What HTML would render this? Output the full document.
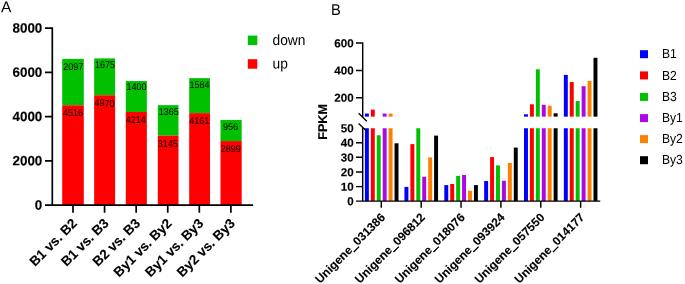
<!DOCTYPE html>
<html><head><meta charset="utf-8"><title>Figure</title>
<style>
html,body{margin:0;padding:0;background:#fff;}
body{width:685px;height:284px;overflow:hidden;position:relative;}
svg{position:absolute;left:0;top:0;display:block;}
svg text{font-family:"Liberation Sans",Arial,sans-serif;fill:#000;text-rendering:geometricPrecision;}
.b{font-weight:bold;stroke:#000;stroke-width:0.14px;}
.r{stroke:#000;stroke-width:0.12px;}
</style></head><body>
<svg width="685" height="284" viewBox="0 0 685 284">
<rect width="685" height="284" fill="#fff"/>
<g id="panelA">
<text font-size="15.6" transform="translate(1.0 12.35) rotate(0.03) scale(1 1)">A</text>
<rect x="62.20" y="58.89" width="21.60" height="46.40" fill="#00C000"/><rect x="62.20" y="105.28" width="21.60" height="99.92" fill="#FF0000"/>
<rect x="94.15" y="58.38" width="20.95" height="36.86" fill="#00C000"/><rect x="94.15" y="95.24" width="20.95" height="109.96" fill="#FF0000"/>
<rect x="125.80" y="81.04" width="21.05" height="30.93" fill="#00C000"/><rect x="125.80" y="111.97" width="21.05" height="93.23" fill="#FF0000"/>
<rect x="157.80" y="105.17" width="20.70" height="30.45" fill="#00C000"/><rect x="157.80" y="135.62" width="20.70" height="69.58" fill="#FF0000"/>
<rect x="189.20" y="78.14" width="20.80" height="35.00" fill="#00C000"/><rect x="189.20" y="113.14" width="20.80" height="92.06" fill="#FF0000"/>
<rect x="220.50" y="119.91" width="21.20" height="21.15" fill="#00C000"/><rect x="220.50" y="141.06" width="21.20" height="64.14" fill="#FF0000"/>
<text font-size="9.8" text-anchor="middle" transform="translate(73.25 70.00) rotate(0.03) scale(0.92 1)">2097</text><text font-size="9.8" text-anchor="middle" transform="translate(72.90 116.30) rotate(0.03) scale(0.92 1)">4516</text>
<text font-size="9.8" text-anchor="middle" transform="translate(105.00 68.00) rotate(0.03) scale(0.92 1)">1675</text><text font-size="9.8" text-anchor="middle" transform="translate(104.45 106.50) rotate(0.03) scale(0.92 1)">4970</text>
<text font-size="9.8" text-anchor="middle" transform="translate(136.60 90.45) rotate(0.03) scale(0.92 1)">1400</text><text font-size="9.8" text-anchor="middle" transform="translate(135.70 122.90) rotate(0.03) scale(0.92 1)">4214</text>
<text font-size="9.8" text-anchor="middle" transform="translate(168.65 115.00) rotate(0.03) scale(0.92 1)">1365</text><text font-size="9.8" text-anchor="middle" transform="translate(167.70 146.90) rotate(0.03) scale(0.92 1)">3145</text>
<text font-size="9.8" text-anchor="middle" transform="translate(199.40 88.30) rotate(0.03) scale(0.92 1)">1584</text><text font-size="9.8" text-anchor="middle" transform="translate(199.15 124.15) rotate(0.03) scale(0.92 1)">4161</text>
<text font-size="9.8" text-anchor="middle" transform="translate(230.60 129.65) rotate(0.03) scale(0.92 1)">956</text><text font-size="9.8" text-anchor="middle" transform="translate(230.80 152.10) rotate(0.03) scale(0.92 1)">2899</text>
<path d="M52.3 27.5V205.2M45 28.2H53M45 72.45H52.3M45 116.7H52.3M45 160.95H52.3M45 205.2H253.1" stroke="#000" stroke-width="1.7" fill="none"/>
<path d="M73.00 205.2V212.8 M104.58 205.2V212.8 M136.16 205.2V212.8 M167.74 205.2V212.8 M199.32 205.2V212.8 M230.90 205.2V212.8" stroke="#000" stroke-width="1.7" fill="none"/>
<text class="b" font-size="13.4" text-anchor="end" transform="translate(42.3 32.60) rotate(0.03)">8000</text><text class="b" font-size="13.4" text-anchor="end" transform="translate(42.3 76.85) rotate(0.03)">6000</text><text class="b" font-size="13.4" text-anchor="end" transform="translate(42.3 121.10) rotate(0.03)">4000</text><text class="b" font-size="13.4" text-anchor="end" transform="translate(42.3 165.35) rotate(0.03)">2000</text><text class="b" font-size="13.4" text-anchor="end" transform="translate(42.3 209.60) rotate(0.03)">0</text>
<text class="b r" font-size="13.5" text-anchor="end" transform="translate(77.90 224.10) rotate(-45)">B1 vs. B2</text>
<text class="b r" font-size="13.5" text-anchor="end" transform="translate(109.48 224.10) rotate(-45)">B1 vs. B3</text>
<text class="b r" font-size="13.5" text-anchor="end" transform="translate(141.06 224.10) rotate(-45)">B2 vs. B3</text>
<text class="b r" font-size="13.5" text-anchor="end" transform="translate(172.64 224.10) rotate(-45)">By1 vs. By2</text>
<text class="b r" font-size="13.5" text-anchor="end" transform="translate(204.22 224.10) rotate(-45)">By1 vs. By3</text>
<text class="b r" font-size="13.5" text-anchor="end" transform="translate(235.80 224.10) rotate(-45)">By2 vs. By3</text>
<rect x="247.8" y="35.6" width="9.5" height="9.5" fill="#00C000"/><text font-size="14.75" transform="translate(272.5 45) rotate(0.03) scale(0.934 1)">down</text>
<rect x="247.8" y="59.2" width="9.5" height="9.5" fill="#FF0000"/><text font-size="14.75" transform="translate(272.5 68.6) rotate(0.03) scale(0.934 1)">up</text>
</g>
<g id="panelB">
<text font-size="15.6" transform="translate(331.0 15.0) rotate(0.03) scale(0.94 1)">B</text>
<rect x="364.90" y="128.25" width="3.95" height="72.85" fill="#0000FF"/><rect x="364.90" y="113.55" width="3.95" height="3.10" fill="#0000FF"/><rect x="370.83" y="128.25" width="3.95" height="72.85" fill="#FF0000"/><rect x="370.83" y="109.60" width="3.95" height="7.05" fill="#FF0000"/><rect x="376.76" y="135.30" width="3.95" height="65.80" fill="#00C000"/><rect x="382.69" y="128.25" width="3.95" height="72.85" fill="#AD07E3"/><rect x="382.69" y="113.55" width="3.95" height="3.10" fill="#AD07E3"/><rect x="388.62" y="128.25" width="3.95" height="72.85" fill="#FF8000"/><rect x="388.62" y="113.55" width="3.95" height="3.10" fill="#FF8000"/><rect x="394.55" y="143.30" width="3.95" height="57.80" fill="#000000"/>
<rect x="404.45" y="186.90" width="3.95" height="14.20" fill="#0000FF"/><rect x="410.38" y="144.10" width="3.95" height="57.00" fill="#FF0000"/><rect x="416.31" y="128.25" width="3.95" height="72.85" fill="#00C000"/><rect x="422.24" y="176.80" width="3.95" height="24.30" fill="#AD07E3"/><rect x="428.17" y="157.40" width="3.95" height="43.70" fill="#FF8000"/><rect x="434.10" y="135.60" width="3.95" height="65.50" fill="#000000"/>
<rect x="444.30" y="185.10" width="3.95" height="16.00" fill="#0000FF"/><rect x="450.23" y="184.00" width="3.95" height="17.10" fill="#FF0000"/><rect x="456.16" y="175.90" width="3.95" height="25.20" fill="#00C000"/><rect x="462.09" y="175.00" width="3.95" height="26.10" fill="#AD07E3"/><rect x="468.02" y="190.70" width="3.95" height="10.40" fill="#FF8000"/><rect x="473.95" y="185.10" width="3.95" height="16.00" fill="#000000"/>
<rect x="484.15" y="181.00" width="3.95" height="20.10" fill="#0000FF"/><rect x="490.08" y="157.10" width="3.95" height="44.00" fill="#FF0000"/><rect x="496.01" y="165.40" width="3.95" height="35.70" fill="#00C000"/><rect x="501.94" y="180.80" width="3.95" height="20.30" fill="#AD07E3"/><rect x="507.87" y="162.90" width="3.95" height="38.20" fill="#FF8000"/><rect x="513.80" y="147.60" width="3.95" height="53.50" fill="#000000"/>
<rect x="524.00" y="128.25" width="3.95" height="72.85" fill="#0000FF"/><rect x="524.00" y="114.30" width="3.95" height="2.35" fill="#0000FF"/><rect x="529.93" y="128.25" width="3.95" height="72.85" fill="#FF0000"/><rect x="529.93" y="104.30" width="3.95" height="12.35" fill="#FF0000"/><rect x="535.86" y="128.25" width="3.95" height="72.85" fill="#00C000"/><rect x="535.86" y="69.30" width="3.95" height="47.35" fill="#00C000"/><rect x="541.79" y="128.25" width="3.95" height="72.85" fill="#AD07E3"/><rect x="541.79" y="104.80" width="3.95" height="11.85" fill="#AD07E3"/><rect x="547.72" y="128.25" width="3.95" height="72.85" fill="#FF8000"/><rect x="547.72" y="105.70" width="3.95" height="10.95" fill="#FF8000"/><rect x="553.65" y="128.25" width="3.95" height="72.85" fill="#000000"/><rect x="553.65" y="113.30" width="3.95" height="3.35" fill="#000000"/>
<rect x="563.85" y="128.25" width="3.95" height="72.85" fill="#0000FF"/><rect x="563.85" y="74.90" width="3.95" height="41.75" fill="#0000FF"/><rect x="569.78" y="128.25" width="3.95" height="72.85" fill="#FF0000"/><rect x="569.78" y="82.00" width="3.95" height="34.65" fill="#FF0000"/><rect x="575.71" y="128.25" width="3.95" height="72.85" fill="#00C000"/><rect x="575.71" y="101.00" width="3.95" height="15.65" fill="#00C000"/><rect x="581.64" y="128.25" width="3.95" height="72.85" fill="#AD07E3"/><rect x="581.64" y="86.20" width="3.95" height="30.45" fill="#AD07E3"/><rect x="587.57" y="128.25" width="3.95" height="72.85" fill="#FF8000"/><rect x="587.57" y="80.90" width="3.95" height="35.75" fill="#FF8000"/><rect x="593.50" y="128.25" width="3.95" height="72.85" fill="#000000"/><rect x="593.50" y="57.80" width="3.95" height="58.85" fill="#000000"/>
<path d="M362.7 42.3V117.5M356 43H362.7M356 70.4H362.7M356 97.7H362.7" stroke="#000" stroke-width="1.45" fill="none"/>
<path d="M362.7 127.9V201.1M356 142.7H362.7M356 157.3H362.7M356 172H362.7M356 186.6H362.7M356 201.1H600.3" stroke="#000" stroke-width="1.45" fill="none"/>
<path d="M358.6 113.3L366.8 121.3M358.6 123.6L366.8 131.2" stroke="#000" stroke-width="1.3" fill="none"/>
<path d="M381.30 201.1V207.8 M421.17 201.1V207.8 M461.04 201.1V207.8 M500.91 201.1V207.8 M540.78 201.1V207.8 M580.65 201.1V207.8" stroke="#000" stroke-width="1.45" fill="none"/>
<text class="b" font-size="11.6" text-anchor="end" transform="translate(353.6 47.15) rotate(0.03)">600</text><text class="b" font-size="11.6" text-anchor="end" transform="translate(353.6 74.55) rotate(0.03)">400</text><text class="b" font-size="11.6" text-anchor="end" transform="translate(353.6 101.85) rotate(0.03)">200</text><text class="b" font-size="11.6" text-anchor="end" transform="translate(353.6 132.25) rotate(0.03)">50</text><text class="b" font-size="11.6" text-anchor="end" transform="translate(353.6 146.85) rotate(0.03)">40</text><text class="b" font-size="11.6" text-anchor="end" transform="translate(353.6 161.45) rotate(0.03)">30</text><text class="b" font-size="11.6" text-anchor="end" transform="translate(353.6 176.15) rotate(0.03)">20</text><text class="b" font-size="11.6" text-anchor="end" transform="translate(353.6 190.75) rotate(0.03)">10</text><text class="b" font-size="11.6" text-anchor="end" transform="translate(353.6 205.25) rotate(0.03)">0</text>
<text class="b" font-size="12.7" text-anchor="middle" transform="translate(327.1 121.9) rotate(-90)">FPKM</text>
<text class="b r" font-size="11.9" text-anchor="end" transform="translate(385.90 218.10) rotate(-45)">Unigene<tspan stroke="#000" stroke-width="0.8">_</tspan>031386</text>
<text class="b r" font-size="11.9" text-anchor="end" transform="translate(425.77 218.10) rotate(-45)">Unigene<tspan stroke="#000" stroke-width="0.8">_</tspan>096812</text>
<text class="b r" font-size="11.9" text-anchor="end" transform="translate(465.64 218.10) rotate(-45)">Unigene<tspan stroke="#000" stroke-width="0.8">_</tspan>018076</text>
<text class="b r" font-size="11.9" text-anchor="end" transform="translate(505.51 218.10) rotate(-45)">Unigene<tspan stroke="#000" stroke-width="0.8">_</tspan>093924</text>
<text class="b r" font-size="11.9" text-anchor="end" transform="translate(545.38 218.10) rotate(-45)">Unigene<tspan stroke="#000" stroke-width="0.8">_</tspan>057550</text>
<text class="b r" font-size="11.9" text-anchor="end" transform="translate(585.25 218.10) rotate(-45)">Unigene<tspan stroke="#000" stroke-width="0.8">_</tspan>014177</text>
<rect x="640" y="50.2" width="8" height="8" fill="#0000FF"/><text font-size="13.2" transform="translate(661.9 58.40) rotate(0.03) scale(0.92 1)">B1</text>
<rect x="640" y="71.4" width="8" height="8" fill="#FF0000"/><text font-size="13.2" transform="translate(661.9 79.60) rotate(0.03) scale(0.92 1)">B2</text>
<rect x="640" y="92.9" width="8" height="8" fill="#00C000"/><text font-size="13.2" transform="translate(661.9 101.10) rotate(0.03) scale(0.92 1)">B3</text>
<rect x="640" y="114.1" width="8" height="8" fill="#AD07E3"/><text font-size="13.2" transform="translate(661.9 122.30) rotate(0.03) scale(0.92 1)">By1</text>
<rect x="640" y="135.1" width="8" height="8" fill="#FF8000"/><text font-size="13.2" transform="translate(661.9 143.30) rotate(0.03) scale(0.92 1)">By2</text>
<rect x="640" y="156.2" width="8" height="8" fill="#000000"/><text font-size="13.2" transform="translate(661.9 164.40) rotate(0.03) scale(0.92 1)">By3</text>
</g>
</svg>
</body></html>
